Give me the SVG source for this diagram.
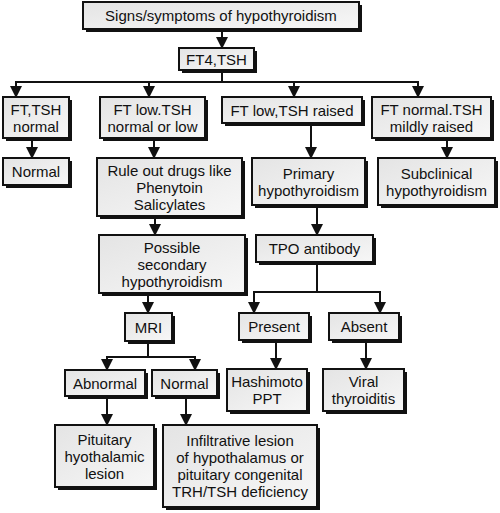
<svg xmlns="http://www.w3.org/2000/svg" width="500" height="513" viewBox="0 0 500 513">
<defs>
<linearGradient id="g" x1="0" y1="0" x2="1" y2="1">
<stop offset="0" stop-color="#e4e4e4"/>
<stop offset="1" stop-color="#f7f7f7"/>
</linearGradient>
<marker id="ah" markerUnits="userSpaceOnUse" markerWidth="12" markerHeight="12" viewBox="0 0 12 12" refX="11" refY="6" orient="auto">
<path d="M0,0 L12,6 L0,12 Z" fill="#111"/>
</marker>
<style>
.sh{fill:#111}
.bx{fill:url(#g);stroke:#111;stroke-width:2}
.t{font-family:"Liberation Sans",Arial,sans-serif;font-size:15px;fill:#111;text-anchor:middle}
.c{fill:none;stroke:#111;stroke-width:2}
.a{fill:none;stroke:#111;stroke-width:2;marker-end:url(#ah)}
</style>
</defs>
<rect width="500" height="513" fill="#fff"/>
<g id="connectors">
<line class="a" x1="222" y1="30" x2="222" y2="48"/>
<polyline class="c" points="222,70 222,82"/>
<polyline class="c" points="16,82 418,82"/>
<line class="a" x1="16" y1="81" x2="16" y2="97"/>
<line class="a" x1="149" y1="81" x2="149" y2="97"/>
<line class="a" x1="294" y1="81" x2="294" y2="97"/>
<line class="a" x1="418" y1="81" x2="418" y2="97"/>
<line class="a" x1="32" y1="139" x2="32" y2="158"/>
<line class="a" x1="154" y1="139" x2="154" y2="158"/>
<line class="a" x1="155" y1="217" x2="155" y2="235"/>
<line class="a" x1="311" y1="124" x2="311" y2="158"/>
<line class="a" x1="447" y1="139" x2="447" y2="158"/>
<line class="a" x1="317" y1="206" x2="317" y2="235"/>
<polyline class="c" points="317,263 317,292"/>
<polyline class="c" points="254,292 380,292"/>
<line class="a" x1="254" y1="291" x2="254" y2="313"/>
<line class="a" x1="380" y1="291" x2="380" y2="313"/>
<line class="a" x1="276" y1="341" x2="276" y2="369"/>
<line class="a" x1="366" y1="341" x2="366" y2="369"/>
<line class="a" x1="148" y1="294" x2="148" y2="313"/>
<polyline class="c" points="148,342 148,357"/>
<polyline class="c" points="107,357 195,357"/>
<line class="a" x1="107" y1="356" x2="107" y2="370"/>
<line class="a" x1="195" y1="356" x2="195" y2="370"/>
<line class="a" x1="107" y1="397" x2="107" y2="425"/>
<line class="a" x1="186" y1="397" x2="186" y2="425"/>
</g>
<g id="signs"><rect class="sh" x="86" y="5" width="276" height="27"/><rect class="bx" x="83" y="2" width="276" height="27"/><text class="t" x="221" y="21">Signs/symptoms of hypothyroidism</text></g>
<g id="ft4tsh"><rect class="sh" x="182" y="51" width="75" height="22"/><rect class="bx" x="179" y="48" width="75" height="22"/><text class="t" x="216.5" y="64.5">FT4,TSH</text></g>
<g id="ft-tsh-normal"><rect class="sh" x="6" y="100" width="66" height="41"/><rect class="bx" x="3" y="97" width="66" height="41"/><text class="t" x="36" y="114.5">FT,TSH</text><text class="t" x="36" y="131.5">normal</text></g>
<g id="ft-low-tsh-normal-low"><rect class="sh" x="103" y="100" width="105" height="41"/><rect class="bx" x="100" y="97" width="105" height="41"/><text class="t" x="152.5" y="114.5">FT low.TSH</text><text class="t" x="152.5" y="131.5">normal or low</text></g>
<g id="ft-low-tsh-raised"><rect class="sh" x="225" y="100" width="140" height="26"/><rect class="bx" x="222" y="97" width="140" height="26"/><text class="t" x="292" y="115.5">FT low,TSH raised</text></g>
<g id="ft-normal-tsh-mild"><rect class="sh" x="375" y="100" width="119" height="41"/><rect class="bx" x="372" y="97" width="119" height="41"/><text class="t" x="431.5" y="114.5">FT normal.TSH</text><text class="t" x="431.5" y="131.5">mildly raised</text></g>
<g id="normal"><rect class="sh" x="6" y="161" width="66" height="27"/><rect class="bx" x="3" y="158" width="66" height="27"/><text class="t" x="36" y="177">Normal</text></g>
<g id="rule-out"><rect class="sh" x="100" y="161" width="145" height="58"/><rect class="bx" x="97" y="158" width="145" height="58"/><text class="t" x="169.5" y="175.5">Rule out drugs like</text><text class="t" x="169.5" y="192.5">Phenytoin</text><text class="t" x="169.5" y="209.5">Salicylates</text></g>
<g id="primary"><rect class="sh" x="255" y="161" width="113" height="47"/><rect class="bx" x="252" y="158" width="113" height="47"/><text class="t" x="308.5" y="178.5">Primary</text><text class="t" x="308.5" y="195.5">hypothyroidism</text></g>
<g id="subclinical"><rect class="sh" x="381" y="161" width="117" height="47"/><rect class="bx" x="378" y="158" width="117" height="47"/><text class="t" x="436.5" y="178.5">Subclinical</text><text class="t" x="436.5" y="195.5">hypothyroidism</text></g>
<g id="possible"><rect class="sh" x="102" y="238" width="146" height="58"/><rect class="bx" x="99" y="235" width="146" height="58"/><text class="t" x="172" y="252.5">Possible</text><text class="t" x="172" y="269.5">secondary</text><text class="t" x="172" y="286.5">hypothyroidism</text></g>
<g id="tpo"><rect class="sh" x="259" y="238" width="117" height="27"/><rect class="bx" x="256" y="235" width="117" height="27"/><text class="t" x="314.5" y="254">TPO antibody</text></g>
<g id="mri"><rect class="sh" x="128" y="316" width="47" height="28"/><rect class="bx" x="125" y="313" width="47" height="28"/><text class="t" x="148.5" y="332.5">MRI</text></g>
<g id="present"><rect class="sh" x="242" y="316" width="70" height="27"/><rect class="bx" x="239" y="313" width="70" height="27"/><text class="t" x="274" y="332">Present</text></g>
<g id="absent"><rect class="sh" x="332" y="316" width="70" height="27"/><rect class="bx" x="329" y="313" width="70" height="27"/><text class="t" x="364" y="332">Absent</text></g>
<g id="abnormal"><rect class="sh" x="68" y="373" width="80" height="26"/><rect class="bx" x="65" y="370" width="80" height="26"/><text class="t" x="105" y="388.5">Abnormal</text></g>
<g id="mri-normal"><rect class="sh" x="155" y="373" width="65" height="26"/><rect class="bx" x="152" y="370" width="65" height="26"/><text class="t" x="184.5" y="388.5">Normal</text></g>
<g id="hashimoto"><rect class="sh" x="230" y="372" width="80" height="42"/><rect class="bx" x="227" y="369" width="80" height="42"/><text class="t" x="267" y="387">Hashimoto</text><text class="t" x="267" y="404">PPT</text></g>
<g id="viral"><rect class="sh" x="326" y="372" width="81" height="42"/><rect class="bx" x="323" y="369" width="81" height="42"/><text class="t" x="363.5" y="387">Viral</text><text class="t" x="363.5" y="404">thyroiditis</text></g>
<g id="pituitary"><rect class="sh" x="58" y="428" width="99" height="62"/><rect class="bx" x="55" y="425" width="99" height="62"/><text class="t" x="104.5" y="444.5">Pituitary</text><text class="t" x="104.5" y="461.5">hyothalamic</text><text class="t" x="104.5" y="478.5">lesion</text></g>
<g id="infiltrative"><rect class="sh" x="166" y="428" width="154" height="82"/><rect class="bx" x="163" y="425" width="154" height="82"/><text class="t" x="240" y="446">Infiltrative lesion</text><text class="t" x="240" y="463">of hypothalamus or</text><text class="t" x="240" y="480">pituitary congenital</text><text class="t" x="240" y="497">TRH/TSH deficiency</text></g>
</svg>
